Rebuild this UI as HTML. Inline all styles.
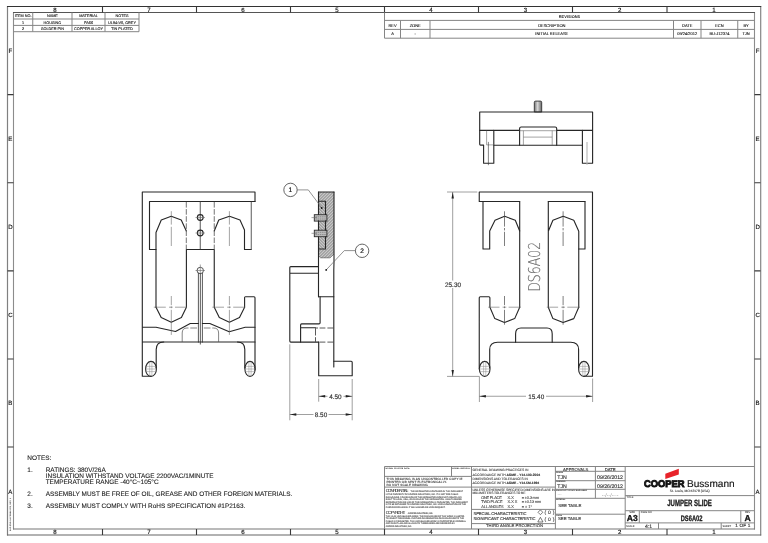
<!DOCTYPE html>
<html lang="en">
<head>
<meta charset="utf-8">
<title>JUMPER SLIDE DS6A02</title>
<style>
html,body{margin:0;padding:0;background:#fff;}
body{width:768px;height:543px;overflow:hidden;}
svg{display:block;will-change:transform;text-rendering:geometricPrecision;font-family:"Liberation Sans",sans-serif;}
.k{fill:none;stroke:#262626;stroke-width:1.12;stroke-linejoin:round;stroke-linecap:round;}
.m{fill:none;stroke:#3c3c3c;stroke-width:.85;}
.t{fill:none;stroke:#666;stroke-width:.6;}
.d{fill:none;stroke:#6c6c6c;stroke-width:.65;}
.t2{fill:none;stroke:#8a8a8a;stroke-width:.5;}
.g{fill:none;stroke:#666;stroke-width:.7;}
.fr{fill:none;stroke:#3a3a3a;stroke-width:1.1;}
.fi{fill:none;stroke:#7a7a7a;stroke-width:1.1;}
.tb{fill:none;stroke:#858585;stroke-width:1;}
.zl{font-size:6.1px;fill:#111;stroke:#111;stroke-width:.15;text-anchor:middle;}
.c{text-anchor:middle;}
.s38{font-size:3.8px;fill:#222;stroke:#222;stroke-width:.12;}
.s40{font-size:4px;fill:#222;stroke:#222;stroke-width:.12;}
.nt{font-size:6.45px;fill:#1c1c1c;stroke:#1c1c1c;stroke-width:.1;}
.dm{font-size:6.4px;fill:#333;stroke:#333;stroke-width:.15;text-anchor:middle;}
.lb{font-size:1.9px;fill:#444;stroke:#444;stroke-width:.08;}
.ar{fill:#222;stroke:none;}
</style>
</head>
<body>
<svg width="768" height="543" viewBox="0 0 768 543">
<defs>
<linearGradient id="pin" x1="0" x2="1" y1="0" y2="0">
<stop offset="0" stop-color="#777"/><stop offset=".45" stop-color="#d8d8d8"/><stop offset="1" stop-color="#666"/>
</linearGradient>
</defs>
<rect width="768" height="543" fill="#fff"/>

<!-- FRAME -->
<g id="frame">
<path d="M7.5,6V535.5" fill="none" stroke="#808080" stroke-width="1.2"/><path d="M760.7,6V535.5" fill="none" stroke="#858585" stroke-width="1.2"/>
<path d="M13.5,12V529.5M754.5,12V529.5" fill="none" stroke="#8c8c8c" stroke-width="1.1"/>
<path d="M7,6.5H761.2" fill="none" stroke="#333" stroke-width="1.1"/><path d="M13,12.5H755" fill="none" stroke="#555" stroke-width="1"/>
<path d="M7,535H761.2" fill="none" stroke="#666" stroke-width="1.15"/><path d="M13,529H755" fill="none" stroke="#777" stroke-width="1.1"/>
<path class="fr" d="M102.5,6.5V12.5M196.5,6.5V12.5M290.5,6.5V12.5M384.5,6.5V12.5M478.5,6.5V12.5M572.5,6.5V12.5M667,6.5V12.5"/>
<path class="fr" d="M102.5,529V535M196.5,529V535M290.5,529V535M384.5,529V535M478.5,529V535M572.5,529V535M667,529V535"/>
<path class="fr" d="M7.5,94.6H13.5M7.5,182.8H13.5M7.5,270.9H13.5M7.5,359H13.5M7.5,447H13.5"/>
<path class="fr" d="M754.5,94.6H760.5M754.5,182.8H760.5M754.5,270.9H760.5M754.5,359H760.5M754.5,447H760.5"/>
<g class="zl">
<text x="55" y="11.5">8</text><text x="149" y="11.5">7</text><text x="243" y="11.5">6</text><text x="337" y="11.5">5</text>
<text x="431" y="11.5">4</text><text x="525.5" y="11.5">3</text><text x="619.7" y="11.5">2</text><text x="714" y="11.5">1</text>
<text x="55" y="533.9">8</text><text x="149" y="533.9">7</text><text x="243" y="533.9">6</text><text x="337" y="533.9">5</text>
<text x="431" y="533.9">4</text><text x="525.5" y="533.9">3</text><text x="619.7" y="533.9">2</text><text x="714" y="533.9">1</text>
<text x="10.4" y="52.8">F</text><text x="10.4" y="141">E</text><text x="10.4" y="229.1">D</text><text x="10.4" y="317.3">C</text><text x="10.4" y="405.3">B</text><text x="10.4" y="494">A</text>
<text x="757.6" y="52.8">F</text><text x="757.6" y="141">E</text><text x="757.6" y="229.1">D</text><text x="757.6" y="317.3">C</text><text x="757.6" y="405.3">B</text><text x="757.6" y="494">A</text>
</g>
<text class="lb" transform="translate(10.6,531) rotate(-90)" textLength="33">BUS-ENG-A3-FORM-0001, REV. 2</text>
</g>

<!-- BOM TABLE -->
<g id="bom">
<path class="tb" d="M13.5,19H139M13.5,25.4H139M13.5,31.7H139M32.75,12.5V31.7M72,12.5V31.7M105,12.5V31.7M139,12.5V31.7"/>
<g class="s38 c">
<text x="23.1" y="17.2">ITEM NO.</text><text x="52.4" y="17.2">NAME</text><text x="88.5" y="17.2">MATERIAL</text><text x="122" y="17.2">NOTES</text>
<text x="23.1" y="23.6">1</text><text x="52.4" y="23.6">HOUSING</text><text x="88.5" y="23.6">PA66</text><text x="122" y="23.6">UL94-V0, GREY</text>
<text x="23.1" y="29.9">2</text><text x="52.4" y="29.9">SOLDER PIN</text><text x="88.5" y="29.9">COPPER ALLOY</text><text x="122" y="29.9">TIN PLATED</text>
</g>
</g>

<!-- REVISIONS TABLE -->
<g id="rev">
<path class="tb" d="M384.5,12.5V38.2M384.5,20.4H754.5M384.5,29.4H754.5M384.5,38.2H754.5M400.5,20.4V38.2M430,20.4V38.2M673.5,20.4V38.2M701,20.4V38.2M737.75,20.4V38.2"/>
<text class="c" x="569.5" y="17.8" style="font-size:3.95px;font-weight:bold;fill:#222">REVISIONS</text>
<g class="s40 c">
<text x="392.5" y="26.5">REV</text><text x="415.2" y="26.5">ZONE</text><text x="551.8" y="26.5">DESCRIPTION</text><text x="687.2" y="26.5">DATE</text><text x="719.4" y="26.5">ECN</text><text x="746.1" y="26.5">BY</text>
<text x="392.5" y="35.4">A</text><text x="415.2" y="35.4">-</text><text x="551.8" y="35.4">INITIAL RELEASE</text><text x="687.2" y="35.4">09/24/2012</text><text x="719.4" y="35.4">BU-J12374</text><text x="746.1" y="35.4">TJN</text>
</g>
</g>

<!-- LEFT VIEW -->
<g id="leftview">
<path class="k" d="M255,201.5V192H142.3V376.3H151"/>
<path class="k" d="M149.5,249.5V201.5H255"/>
<path class="k" d="M149.5,249.5H156"/>
<path class="k" d="M156,307.2V232.5L161.25,220L171.25,216.25L181.25,220L186.3,231"/>
<path class="k" d="M156,307.2L161.2,317.6L171.3,322.2L181.4,317.6L186.4,307.2V249.5H214.25V307.2L219.3,317.6L229.4,322.2L239.5,317.6L244.6,307.2V297.75Q244.5,296.75 245.5,296.75H254Q255,296.75 255,297.75V370"/>
<path class="k" d="M214.25,231L218.75,220L229.5,216.25L240,220L244.5,230V249.5H251.25"/>
<path class="m" d="M251.25,249.5V201.5"/>
<path class="m" d="M200.25,201.5V249.5"/>
<path stroke-dasharray="5.6 1.5" d="M186.3,202V249.5M214.25,202V249.5" fill="none" stroke="#4c4c4c" stroke-width=".78"/>
<circle class="k" cx="200.25" cy="217.5" r="2.9"/><circle class="k" cx="200.25" cy="233" r="2.9"/>
<path class="t" d="M195.5,217.5H205M195.5,233H205"/>
<circle class="m" cx="200.25" cy="270.5" r="3.2"/>
<path class="t" d="M195.5,270.5H205M200.3,264.5V273"/><path class="m" d="M200.35,273V344.5"/>
<path class="m" d="M198.4,272.8V342.6M202.4,272.8V342.6"/>
<path class="k" d="M142.5,327.3H156L175.5,331.5L190.2,323.5H198.4M202.4,323.5H209.8L229.25,331.8L245.2,327.3H255"/>
<path class="k" d="M142.5,342H255"/>
<path class="k" d="M163.7,342Q156.2,342 156.2,349.5V368M237.5,342Q244.8,342 244.8,349.5V368"/>
<ellipse class="k" cx="151" cy="368.9" rx="5.4" ry="7.5"/><ellipse class="k" cx="250" cy="368.9" rx="5.1" ry="7.5"/>
<path class="t2" d="M145.6,369H156.4M149.7,361.5V376.3M151.9,361.5V376.3M146,366.4H156M146,371.6H156"/>
<path class="t2" d="M244.9,369H255.1M248.9,361.5V376.3M251.1,361.5V376.3M245.4,366.4H254.6M245.4,371.6H254.6"/>
<path d="M182.2,342V333Q182.2,328 187,328H188.5M190.3,328H197M203.8,328H210.5M212.3,328H213.6Q218.6,328 218.6,333V342" fill="none" stroke="#505050" stroke-width=".7"/>
<path class="t" d="M171.3,211.2V224.6M171.3,226.8V246M229.4,211.2V224.6M229.4,226.8V246M171.3,296V305.2M171.3,306.4V308.2M171.3,309.8V334.9M229.4,296V305.2M229.4,306.4V308.2M229.4,309.8V334.9"/>
<path class="t" d="M153.8,307.2H165.8M169,307.2H172.7M175,307.2H187M212.3,307.2H224M227.2,307.2H230.9M233.2,307.2H245.2"/>
</g>

<!-- SIDE VIEW -->
<g id="sideview">
<clipPath id="cpA"><path d="M325.3,192H334V254L330,257.8H320.6L318.4,255.8V249H325.3ZM318.4,192H325.3V201.5H318.4Z"/></clipPath>
<clipPath id="cpB"><path d="M318.4,201.5H325.3V214.6H318.4ZM318.4,221H325.3V230.2H318.4ZM318.4,236.7H325.3V249H318.4Z"/></clipPath>
<path clip-path="url(#cpA)" d="M251.60,258.2L318.30,191.5M253.10,258.2L319.80,191.5M254.60,258.2L321.30,191.5M256.10,258.2L322.80,191.5M257.60,258.2L324.30,191.5M259.10,258.2L325.80,191.5M260.60,258.2L327.30,191.5M262.10,258.2L328.80,191.5M263.60,258.2L330.30,191.5M265.10,258.2L331.80,191.5M266.60,258.2L333.30,191.5M268.10,258.2L334.80,191.5M269.60,258.2L336.30,191.5M271.10,258.2L337.80,191.5M272.60,258.2L339.30,191.5M274.10,258.2L340.80,191.5M275.60,258.2L342.30,191.5M277.10,258.2L343.80,191.5M278.60,258.2L345.30,191.5M280.10,258.2L346.80,191.5M281.60,258.2L348.30,191.5M283.10,258.2L349.80,191.5M284.60,258.2L351.30,191.5M286.10,258.2L352.80,191.5M287.60,258.2L354.30,191.5M289.10,258.2L355.80,191.5M290.60,258.2L357.30,191.5M292.10,258.2L358.80,191.5M293.60,258.2L360.30,191.5M295.10,258.2L361.80,191.5M296.60,258.2L363.30,191.5M298.10,258.2L364.80,191.5M299.60,258.2L366.30,191.5M301.10,258.2L367.80,191.5M302.60,258.2L369.30,191.5M304.10,258.2L370.80,191.5M305.60,258.2L372.30,191.5M307.10,258.2L373.80,191.5M308.60,258.2L375.30,191.5M310.10,258.2L376.80,191.5M311.60,258.2L378.30,191.5M313.10,258.2L379.80,191.5M314.60,258.2L381.30,191.5M316.10,258.2L382.80,191.5M317.60,258.2L384.30,191.5M319.10,258.2L385.80,191.5M320.60,258.2L387.30,191.5M322.10,258.2L388.80,191.5M323.60,258.2L390.30,191.5M325.10,258.2L391.80,191.5M326.60,258.2L393.30,191.5M328.10,258.2L394.80,191.5M329.60,258.2L396.30,191.5M331.10,258.2L397.80,191.5M332.60,258.2L399.30,191.5M334.10,258.2L400.80,191.5" fill="none" stroke="#333" stroke-width=".58"/>
<path clip-path="url(#cpB)" d="M270.80,201.5L318.30,249M272.30,201.5L319.80,249M273.80,201.5L321.30,249M275.30,201.5L322.80,249M276.80,201.5L324.30,249M278.30,201.5L325.80,249M279.80,201.5L327.30,249M281.30,201.5L328.80,249M282.80,201.5L330.30,249M284.30,201.5L331.80,249M285.80,201.5L333.30,249M287.30,201.5L334.80,249M288.80,201.5L336.30,249M290.30,201.5L337.80,249M291.80,201.5L339.30,249M293.30,201.5L340.80,249M294.80,201.5L342.30,249M296.30,201.5L343.80,249M297.80,201.5L345.30,249M299.30,201.5L346.80,249M300.80,201.5L348.30,249M302.30,201.5L349.80,249M303.80,201.5L351.30,249M305.30,201.5L352.80,249M306.80,201.5L354.30,249M308.30,201.5L355.80,249M309.80,201.5L357.30,249M311.30,201.5L358.80,249M312.80,201.5L360.30,249M314.30,201.5L361.80,249M315.80,201.5L363.30,249M317.30,201.5L364.80,249M318.80,201.5L366.30,249M320.30,201.5L367.80,249M321.80,201.5L369.30,249M323.30,201.5L370.80,249M324.80,201.5L372.30,249" fill="none" stroke="#333" stroke-width=".58"/>
<rect x="314.3" y="214.7" width="12.6" height="6.4" fill="#bdbdbd" stroke="#2a2a2a" stroke-width=".9"/>
<rect x="314.3" y="230.2" width="12.6" height="6.5" fill="#bdbdbd" stroke="#2a2a2a" stroke-width=".9"/>
<path d="M315.5,216.8H326M315.5,219H326M315.5,232.3H326M315.5,234.6H326" stroke="#555" stroke-width=".5" stroke-dasharray="1.4 .8" fill="none"/>
<path class="k" d="M318.5,192H334"/>
<path class="k" d="M318.5,192V214.5M318.5,220.8V230M318.5,236.7V296.8M318.7,342.1V375.75H352.2V362.25Q352.2,361.25 351.2,361.25H333.8"/>
<path class="k" d="M334,192V262L333.8,270V367"/>
<path class="m" style="stroke-width:.6" d="M318.5,255.8L320.6,257.8H330L334,254"/>
<path class="k" d="M318.5,201.3H325.5V214.5M325.5,220.8V230M325.5,236.7V249H318.5"/>
<path class="t" d="M311.5,217.6H317M311.5,233.3H317"/>
<path class="k" d="M318.5,266.6H290.8Q289.8,266.6 289.8,267.6V341.1Q289.8,342.1 290.8,342.1H318.7M289.8,273.2H318.5M318.5,296.8H333.8"/>
<path class="k" d="M320.1,296.8V322.8Q320.1,323.9 319,323.9H301.6Q300.6,323.9 300.6,324.9V342.1M300.6,327.7H315.5"/>
<path class="m" d="M315.5,328H318M319.6,328H325.4M327.4,328H333.4M315.5,328.2V335.5M315.5,337.2V341.8M319.6,342.1H325.4M327.4,342.1H333.4"/>
<circle cx="290.5" cy="189.9" r="6.7" fill="none" stroke="#4a4a4a" stroke-width=".85"/>
<circle cx="362.1" cy="250.8" r="6.7" fill="none" stroke="#4a4a4a" stroke-width=".85"/>
<text x="290.4" y="192.3" class="c" style="font-size:6.6px;fill:#111;stroke:#111;stroke-width:.2">1</text>
<text x="362.1" y="253.2" class="c" style="font-size:6.6px;fill:#111;stroke:#111;stroke-width:.2">2</text>
<path class="g" d="M297.2,189.9H308.3L321.7,207.8M355.4,250.6H344.3L326.2,269.9"/>
<circle cx="321.7" cy="208" r=".95" fill="#111"/><circle cx="326.2" cy="269.9" r=".95" fill="#111"/>
</g>

<!-- FRONT VIEW -->
<g id="frontview">
<path class="k" d="M483,201.5H479.25V192H592.5V376.25H584"/>
<path class="k" d="M483,201.5H519.7M548.3,201.5H585"/>
<path class="k" d="M483,201.5V249H489.7V231L495,220.2L504.6,216.3L515.3,220.2L519.7,231"/>
<path class="k" d="M519.7,201.5V307.2L514.7,318.6L504.5,322.5L494.8,318.6L489.9,307.2V297.75Q489.9,296.75 488.9,296.75H480.25Q479.25,296.75 479.25,297.75V369"/>
<path class="k" d="M548.3,201.5V307.2L552.9,318.6L563.1,322.5L573.8,318.6L578.75,307.2V231.2L573.8,220.2L563.2,216.3L552.9,220.2L548.3,231.2"/>
<path class="k" d="M585,201.5V249H578.75"/>
<path class="k" d="M489.7,368V349.5Q489.7,342.2 497.6,342.2H570.8Q578.6,342.2 578.6,349.5V368"/>
<path class="k" d="M515.6,342.2V333.8Q515.6,328 521,328H547Q552.2,328 552.2,333.8V342.2"/>
<ellipse class="k" cx="484.7" cy="368.9" rx="5.3" ry="7.5"/><ellipse class="k" cx="583.9" cy="368.9" rx="5.3" ry="7.5"/>
<path class="t2" d="M479.4,369H490M483.6,361.5V376.3M485.8,361.5V376.3M479.9,366.4H489.5M479.9,371.6H489.5"/>
<path class="t2" d="M578.6,369H589.2M582.8,361.5V376.3M585,361.5V376.3M579.1,366.4H588.7M579.1,371.6H588.7"/>
<path class="t" style="stroke:#484848;stroke-width:.7" d="M504.5,211.3V226.6M504.5,228V230.4M504.5,231.8V246M563.1,211.3V226.6M563.1,228V230.4M563.1,231.8V246M504.5,296V305.2M504.5,306.4V308.2M504.5,309.8V324.7M563.1,296V305.2M563.1,306.4V308.2M563.1,309.8V324.7"/>
<path class="t" d="M488.2,307.2H499.5M502.6,307.2H506.3M508.6,307.2H521M546.8,307.2H558.1M561.3,307.2H565M567.3,307.2H580"/>
<text transform="translate(539.9,291.8) rotate(-90)" textLength="50" lengthAdjust="spacingAndGlyphs" style="font-size:16.3px;fill:#6a6a6a;stroke:#6a6a6a;stroke-width:.12;font-family:'DejaVu Sans Light','Liberation Sans',sans-serif;font-weight:200">DS6A02</text>
</g>

<!-- TOP VIEW -->
<g id="topview">
<path d="M534.3,112V102.4Q534.3,101.1 535.6,101.1H540.4Q541.7,101.1 541.7,102.4V112Z" fill="url(#pin)" stroke="#333" stroke-width=".9"/>
<path class="k" d="M479.7,112H592.6V163.3H582.4V130.4M479.7,112V144.2Q479.7,145.1 480.6,145.1H483.6V163.3H493.8V130.4"/>
<path class="k" d="M479.8,130.4H519.6M556.7,130.4H592.5M493.8,145.2H582.3"/>
<path class="k" d="M519.6,145.2V128.6Q519.6,127 521.2,127H555.1Q556.7,127 556.7,128.6V145.2"/>
<path class="t" d="M519.6,130.7H556.7M523.4,130.7V145.2M552.2,130.7V145.2M523.4,137.1H552.2M486.6,130.6V144.9H493.8"/>
<path d="M488.4,141.9V165.2" fill="none" stroke="#333" stroke-width=".6"/>
<path d="M587,141.9V164.7" fill="none" stroke="#b5b5b5" stroke-width="1.1"/>
</g>


<!-- DIMENSIONS -->
<g id="dims">
<path class="d" d="M447,192H477.3M447,376.4H479.25M452.7,192V280.5M452.7,288V376.4"/>
<path class="ar" d="M452.7,192L453.9,198.4H451.5ZM452.7,376.4L453.9,370H451.5Z"/>
<text class="dm" x="453" y="286.9">25.30</text>
<path class="d" d="M479.4,376.4V402M592.6,378.5V402M479.25,396.25H526M546,396.25H592.5"/>
<path class="ar" d="M479.4,396.25L485.9,395.05V397.45ZM592.6,396.25L586.1,395.05V397.45Z"/>
<text class="dm" x="536.2" y="398.5">15.40</text>
<path class="d" d="M289.8,344.3V420.3M318.7,379V401.7M352.2,379V420.3"/>
<path class="d" d="M318.7,396.3H327.5M343.5,396.3H352.2M289.8,414.5H313.5M328.5,414.5H352.2"/>
<path class="ar" d="M318.7,396.3L325.2,395.1V397.5ZM352.2,396.3L345.7,395.1V397.5ZM289.8,414.5L296.3,413.3V415.7ZM352.2,414.5L345.7,413.3V415.7Z"/>
<text class="dm" x="335.4" y="398.6">4.50</text>
<text class="dm" x="321" y="416.8">8.50</text>
</g>


<!-- NOTES -->
<g id="notes" class="nt">
<text x="27.3" y="459.7">NOTES:</text>
<text x="27.3" y="471.8">1.</text><text x="45.7" y="471.8">RATINGS: 380V/26A</text>
<text x="45.7" y="477.8">INSULATION WITHSTAND VOLTAGE 2200VAC/1MINUTE</text>
<text x="45.7" y="483.8">TEMPERATURE RANGE -40°C~105°C</text>
<text x="27.3" y="495.8">2.</text><text x="45.7" y="495.8">ASSEMBLY MUST BE FREE OF OIL, GREASE AND OTHER FOREIGN MATERIALS.</text>
<text x="27.3" y="507.8">3.</text><text x="45.7" y="507.8">ASSEMBLY MUST COMPLY WITH RoHS SPECIFICATION #1P2163.</text>
</g>


<!-- TITLE BLOCK -->
<g id="titleblock">
<path class="tb" d="M384.5,529V466.5H754.5"/>
<path class="tb" d="M471.5,466.5V529M555.4,466.5V529M625.2,466.5V529"/>
<path class="tb" d="M384.5,476.4H471.5M451.5,466.5V476.4M384.5,487.1H555.4M471.5,509.4H555.4M471.5,523.6H555.4"/>
<path class="tb" d="M555.4,471.3H625.2M555.4,480.7H625.2M555.4,489.3H625.2M555.4,498.3H625.2M555.4,514.2H625.2M595.4,466.5V498.3"/>
<path class="tb" d="M625.2,495.6H754.5M625.2,510.7H754.5M625.2,522.9H754.5M639.3,510.7V522.9M740.8,510.7V522.9M658.5,522.9V529M721.2,522.9V529"/>
<!-- left column -->
<g class="lb">
<text x="385.5" y="468.9" textLength="24.5">MODEL SOURCE DATA:</text>
<text x="385.5" y="473.6">--</text>
<text x="452.2" y="468.9" textLength="18">MODEL VERSION:</text>
</g>
<g style="font-size:3.05px;fill:#444;stroke:#444;stroke-width:0.1">
<text x="386.4" y="480.2" textLength="76">THIS DRAWING IS AN UNCONTROLLED COPY IF</text>
<text x="386.4" y="483.2" textLength="60.5">PRINTED OR SENT ELECTRONICALLY.</text>
<text x="386.4" y="486.2" textLength="41.5">DO NOT SCALE DRAWING</text>
</g>
<text x="385.8" y="492" style="font-size:4.4px;fill:#333;stroke:#333;stroke-width:0.04" textLength="22.8">CONFIDENTIAL:</text>
<text x="385.8" y="513.5" style="font-size:4.4px;fill:#333;stroke:#333;stroke-width:0.04" textLength="19.3">COPYRIGHT:</text>
<g style="font-size:2.05px;fill:#555;stroke:#555;stroke-width:0.1">
<text x="410.5" y="492.1" textLength="52.5">THE INFORMATION CONTAINED IN THIS DOCUMENT</text>
<text x="385.8" y="494.8" textLength="72.5">IS THE PROPERTY OF COOPER INDUSTRIES, INC. IT IS NOT FOR PUBLIC</text>
<text x="385.8" y="497.5" textLength="76">DISCLOSURE. POSSESSION OF THE INFORMATION DOES NOT CONVEY ANY</text>
<text x="385.8" y="500.2" textLength="76">RIGHT TO LOAN, SELL, OR DISCLOSE THE INFORMATION. UNAUTHORIZED</text>
<text x="385.8" y="502.8" textLength="82">REPRODUCTION OR USE OF THE INFORMATION IS PROHIBITED. THIS DOCUMENT</text>
<text x="385.8" y="505.4" textLength="80">IS TO BE RETURNED TO COOPER INDUSTRIES, INC. UPON COMPLETION OF THE</text>
<text x="385.8" y="508" textLength="59.5">PURPOSE FOR WHICH IT WAS LOANED OR UPON REQUEST.</text>
<text x="407" y="513.6" textLength="26">- COOPER INDUSTRIES, INC.</text>
<text x="385.8" y="516.7" textLength="78.5">THIS IS AN UNPUBLISHED WORK. THE DISCLOSURE OF THIS WORK IS LIMITED</text>
<text x="385.8" y="519.2" textLength="78">TO SELECT PERSONNEL. FURTHER DISSEMINATION OR DISCLOSURE TO THE</text>
<text x="385.8" y="522" textLength="80">PUBLIC IS PROHIBITED. THIS UNPUBLISHED WORK IS PROTECTED BY FEDERAL</text>
<text x="385.8" y="524.4" textLength="69">COPYRIGHT LAW AND ALL RIGHTS THEREUNDER ARE RESERVED BY</text>
<text x="385.8" y="526.8" textLength="26">COOPER INDUSTRIES, INC.</text>
</g>
<!-- middle column -->
<g style="font-size:3.35px;fill:#444;stroke:#444;stroke-width:0.1">
<text x="472.4" y="471.3" textLength="56">GENERAL DRAWING PRACTICES IN</text>
<text x="472.4" y="475.7">ACCORDANCE WITH <tspan font-weight="bold" fill="#222">ASME - Y14.100-2004</tspan></text>
<text x="472.4" y="480" textLength="55.5">DIMENSIONS AND TOLERANCES IN</text>
<text x="472.4" y="484.1">ACCORDANCE WITH <tspan font-weight="bold" fill="#222">ASME - Y14.5M-1994</tspan></text>
<text x="472.4" y="490.5" textLength="82.5">UNLESS OTHERWISE SPECIFIED DIMENSIONS ARE IN</text>
<text x="472.4" y="494.4" textLength="53">MILLIMETERS TOLERANCES TO BE</text>
</g>
<g style="font-size:3.9px;fill:#444;stroke:#444;stroke-width:0.1">
<text x="481.2" y="498.8" textLength="20.6">ONE PLACE</text><text x="507.5" y="498.8">X.X</text><text x="521.7" y="498.8" textLength="17.2">= ±0.3 mm</text>
<text x="481.2" y="503.3" textLength="21.3">TWO PLACE</text><text x="507.5" y="503.3">X.X X</text><text x="521.7" y="503.3" textLength="19.3">= ±0.13 mm</text>
<text x="481.2" y="508.3" textLength="22.5">ALL ANGLES</text><text x="507.5" y="508.3">X.X</text><text x="521.7" y="508.3">= ± 1°</text>
</g>
<g style="font-size:4.2px;fill:#444;stroke:#444;stroke-width:0.14">
<text x="473.5" y="514.8" textLength="53.1">SPECIAL CHARACTERISTIC</text>
<text x="473.5" y="520.4" textLength="62.1">SIGNIFICANT CHARACTERISTIC</text>
<text x="486" y="527.3" textLength="57">THIRD ANGLE PROJECTION</text>
</g>
<path d="M540.4,509.9L542.8,512.3L540.4,514.7L538,512.3ZM540.4,517.3L543,522H537.8Z" fill="none" stroke="#444" stroke-width=".7"/>
<g style="font-size:5px;fill:#444;stroke:#444;stroke-width:0.14"><text x="544.6" y="514.2" textLength="9.7">( 0 )</text><text x="544.6" y="521.4" textLength="9.7">( 0 )</text></g>
<!-- approvals -->
<g style="font-size:4.25px;fill:#444;stroke:#444;stroke-width:0.14" class="c"><text x="575.7" y="470.5">APPROVALS</text><text x="610.2" y="470.5">DATE</text></g>
<g class="lb">
<text x="556" y="472.9">DRAWN</text><text x="556" y="482.3">CHECKED</text><text x="556" y="490.9" textLength="31">MANUFACTURING ENGINEER</text>
<text x="556" y="499.9">MATERIAL</text><text x="556" y="515.6">FINISH</text>
<text x="626.6" y="497.6" style="font-size:2.5px">TITLE</text><text x="629.2" y="512.8" style="font-size:2.6px">SIZE</text><text x="640.8" y="512.8" style="font-size:2.6px">DWG NO</text><text x="744.9" y="512.8" style="font-size:2.6px">REV</text>
<text x="626" y="526.6" style="font-size:2.6px">SCALE</text><text x="722.5" y="526.6" style="font-size:2.6px">SHEET</text>
</g>
<g style="font-size:5.2px;fill:#333;stroke:#333;stroke-width:0.14">
<text x="557.3" y="478.9">TJN</text><text x="597" y="478.9">09/26/2012</text>
<text x="557.3" y="487.7">TJN</text><text x="597" y="487.7">09/26/2012</text>
</g>
<text x="557.5" y="496.3" style="font-size:4px;fill:#888">---</text>
<text x="610.2" y="496.6" class="c" style="font-size:5.2px;fill:#8a8a8a">--/--/----</text>
<g style="font-size:4.3px;fill:#444;stroke:#444;stroke-width:0.14"><text x="558.3" y="507.4">SEE TABLE</text><text x="558" y="519.6">SEE TABLE</text></g>
<!-- logo -->
<path d="M665.3,473.8L678.8,468.7V474.5L665.3,478.9Z" fill="#e8232a"/>
<text x="644" y="487" style="font-size:9.6px;font-weight:bold;fill:#111;stroke:#111;stroke-width:.9" textLength="40.5" lengthAdjust="spacingAndGlyphs">COOPER</text>
<text x="687" y="487" style="font-size:10px;fill:#111;stroke:#111;stroke-width:0.14" textLength="47.6" lengthAdjust="spacingAndGlyphs">Bussmann</text>
<text x="689.7" y="492.4" class="c" style="font-size:3.3px;fill:#444;stroke:#444;stroke-width:0.1">St. Louis, MO 63178 (USA)</text>
<text x="667.2" y="505.7" style="font-size:9px;font-weight:bold;fill:#222;stroke:#222;stroke-width:0.3" textLength="44.7" lengthAdjust="spacingAndGlyphs">JUMPER SLIDE</text>
<text x="680.7" y="520.6" style="font-size:7.9px;font-weight:bold;fill:#222;stroke:#222;stroke-width:0.3" textLength="21.8" lengthAdjust="spacingAndGlyphs">DS6A02</text>
<text x="626.7" y="521" style="font-size:8.6px;font-weight:bold;fill:#111;stroke:#111;stroke-width:0.3" textLength="11">A3</text>
<text x="744.4" y="521" style="font-size:8.6px;font-weight:bold;fill:#111;stroke:#111;stroke-width:0.3">A</text>
<text x="645" y="527.6" style="font-size:5.1px;fill:#333;stroke:#333;stroke-width:0.14">4:1</text>
<text x="735.2" y="527.4" style="font-size:4.7px;fill:#333;stroke:#333;stroke-width:0.14" textLength="15.2">1 OF 1</text>
</g>


</svg>
</body>
</html>
